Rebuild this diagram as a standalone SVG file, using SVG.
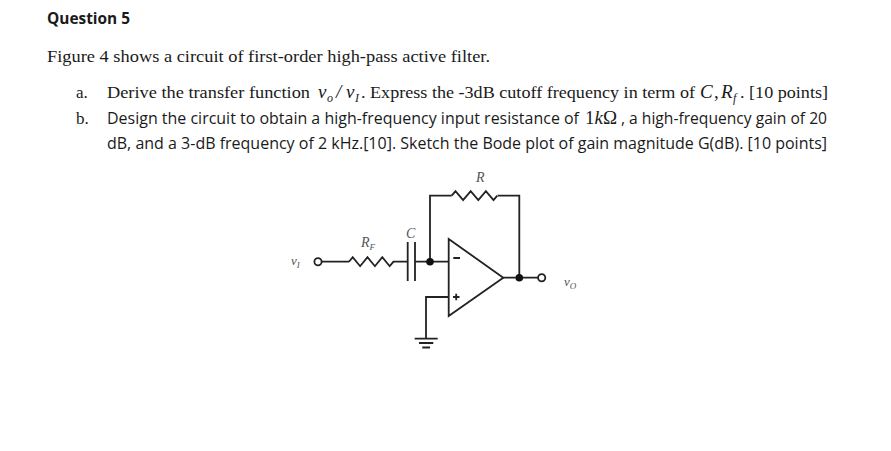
<svg xmlns="http://www.w3.org/2000/svg" width="891" height="451" viewBox="0 0 891 451">
<style>
.s{font-family:"Open Sans","Liberation Sans",sans-serif;font-size:15.5px;fill:#1a1a1a}
.t{font-family:"Liberation Serif",serif;font-size:17px;fill:#1a1a1a}
.b{font-size:19px}
.m{font-size:12px}
.i{font-family:"Liberation Serif",serif;font-style:italic;fill:#555}
.w{fill:none;stroke:#222;stroke-width:1.8;stroke-linejoin:miter}
.d{fill:#111}
.o{fill:#fff;stroke:#222;stroke-width:1.8}
</style>
<rect width="891" height="451" fill="#fff"/>
<text class="s" x="47" y="24" font-weight="700" textLength="83" lengthAdjust="spacingAndGlyphs">Question 5</text>
<text class="t" x="47" y="62" textLength="443" lengthAdjust="spacingAndGlyphs">Figure 4 shows a circuit of first-order high-pass active filter.</text>
<text class="t" x="76" y="98">a.</text>
<text class="t" x="107" y="98" textLength="203" lengthAdjust="spacingAndGlyphs">Derive the transfer function</text>
<text class="t b" x="318" y="98" font-style="italic">v</text>
<text class="t m" x="327" y="102" font-style="italic">o</text>
<text class="t b" x="336" y="98" font-style="italic">/</text>
<text class="t b" x="346" y="98" font-style="italic">v</text>
<text class="t m" x="355" y="102" font-style="italic">I</text>
<text class="t" x="361" y="98" textLength="334" lengthAdjust="spacingAndGlyphs">. Express the -3dB cutoff frequency in term of</text>
<text class="t b" x="700" y="98" font-style="italic">C</text>
<text class="t b" x="714" y="98">,</text>
<text class="t b" x="721" y="98" font-style="italic">R</text>
<text class="t m" x="733" y="102" font-style="italic">f</text>
<text class="t" x="740" y="98" textLength="88" lengthAdjust="spacingAndGlyphs">. [10 points]</text>
<text class="t" x="76" y="124">b.</text>
<text class="s" x="107" y="124" textLength="472" lengthAdjust="spacingAndGlyphs">Design the circuit to obtain a high-frequency input resistance of</text>
<text class="t b" x="585" y="124">1<tspan font-style="italic">k</tspan>Ω</text>
<text class="s" x="621" y="124" textLength="206" lengthAdjust="spacingAndGlyphs">, a high-frequency gain of 20</text>
<text class="s" x="107" y="149" textLength="720" lengthAdjust="spacingAndGlyphs">dB, and a 3-dB frequency of 2 kHz.[10]. Sketch the Bode plot of gain magnitude G(dB). [10 points]</text>
<g id="connectors">
<path class="w" d="M321.5 261.7H349M393 261.7H407.7M415 261.7H448M430 261.7V195.7H451.7M497.7 195.7H519.3V277.7M503.3 277.7H538.2M448 297H426V338.5"/>
</g>
<g id="vi"><circle class="o" cx="318" cy="261.7" r="3.6"/><text class="i" x="291" y="265" font-size="13">v<tspan font-size="9" dy="3">I</tspan></text></g>
<g id="rf"><path class="w" d="M349 261.7l3.7-4.5 7.4 9 7.4-9 7.4 9 7.4-9 7.4 9 3.8-4.5"/><text class="i" x="361" y="247" font-size="14">R<tspan font-size="9" dy="3">F</tspan></text></g>
<g id="c"><path class="w" d="M407.7 242V281M415 242V281"/><text class="i" x="406" y="238" font-size="14">C</text></g>
<g id="r"><path class="w" d="M451.7 195.7l3.8-4.5 7.6 9 7.6-9 7.6 9 7.6-9 7.6 9 3.8-4.5"/><text class="i" x="476" y="182" font-size="14">R</text></g>
<g id="opamp"><path class="w" d="M448.7 239V316L503.3 277.7Z"/><path class="w" d="M453.3 258H460M453 297H459.5M456.2 293.7V300.3" stroke-width="2"/></g>
<g id="n1"><circle class="d" cx="430" cy="261.7" r="3.8"/></g>
<g id="n2"><circle class="d" cx="519.3" cy="277.7" r="3.8"/></g>
<g id="vo"><circle class="o" cx="541.7" cy="277.7" r="3.6"/><text class="i" x="564" y="286" font-size="13">v<tspan font-size="9" dy="3">O</tspan></text></g>
<g id="gnd"><path class="w" d="M414.7 338.7H437.7M419 343H433.3M422.3 347.5H430"/></g>
</svg>
